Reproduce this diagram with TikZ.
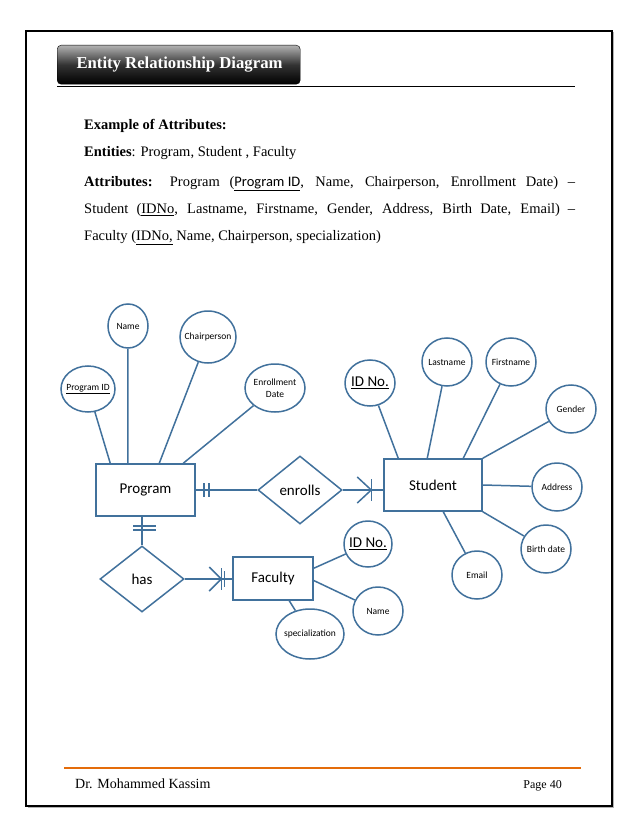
\documentclass[tikz,border=0pt]{standalone}
\usepackage{fontspec}
\setmainfont{Liberation Serif}
\newfontfamily\calfont{Carlito}
\usetikzlibrary{shapes.geometric,calc,shadows}
\definecolor{erblue}{HTML}{41719C}
\definecolor{footorange}{HTML}{E46C0A}
\tikzset{
 attr/.style={ellipse,draw=erblue,line width=1.5pt,fill=white,inner sep=0pt,label={[font=\calfont\fontsize{9.5}{12}\selectfont,align=center]center:#1}},
 bigattr/.style={ellipse,draw=erblue,line width=1.5pt,fill=white,inner sep=0pt,label={[font=\calfont\fontsize{15}{17}\selectfont]center:#1}},
 ent/.style={rectangle,draw=erblue,line width=1.5pt,fill=white,font=\calfont\fontsize{15}{17}\selectfont},
 rel/.style={diamond,draw=erblue,line width=1.5pt,fill=white,inner sep=0pt,aspect=1.25,font=\calfont\fontsize{15}{17}\selectfont},
 con/.style={draw=erblue,line width=1.5pt},
 body/.style={anchor=base west,inner sep=0pt,font=\fontsize{14.5}{16}\selectfont},
}
\begin{document}
\begin{tikzpicture}[x=1pt,y=-1pt]
\useasboundingbox (0,0) rectangle (638,826);
% page frame
\draw[line width=1.2pt,fill=white,drop shadow={shadow xshift=1.5pt,shadow yshift=-1.5pt,opacity=0.6}] (26,31) rectangle (612,806);
% header
\node[draw=black,rounded corners=4pt,minimum width=243pt,minimum height=39pt,top color=gray!60,bottom color=black,middle color=black!80,anchor=north west,inner sep=0pt] (hdr) at (57,45) {};
\node[text=white,font=\bfseries\fontsize{16.7}{18}\selectfont,anchor=west] (hdrt) at (73,65) {Entity Relationship Diagram};
\draw[line width=0.6pt] (57,86) -- (575,86);
% body text
\node[body] (t1) at (84,130) {\textbf{Example of Attributes:}};
\node[body] (t2) at (84,157) {\textbf{Entities}: Program, Student , Faculty};
\node[anchor=north west,inner sep=0pt,text width=491pt,align=justify,font=\fontsize{14.5}{27}\selectfont] (t3) at (84,176)
 {\textbf{Attributes:} Program ({\calfont\underline{Program ID}}, Name, Chairperson, Enrollment Date) --\linebreak Student (\underline{IDNo}, Lastname, Firstname, Gender, Address, Birth Date, Email) --\linebreak Faculty (\underline{IDNo,} Name, Chairperson, specialization)};
% entities
\node[ent,minimum width=99pt,minimum height=52pt] (prog) at (145.5,490) {Program};
\node[ent,minimum width=98pt,minimum height=52pt] (stud) at (433,485) {Student};
\node[ent,minimum width=80pt,minimum height=43pt] (fac) at (273,578.5) {Faculty};
\node[rel,minimum width=84pt,minimum height=68pt] (enr) at (300,490) {enrolls};
\node[rel,minimum width=84pt,minimum height=66pt] (has) at (142,579) {has};
% attributes
\node[attr={Name},minimum width=40pt,minimum height=44pt] (pname) at (128,326) {};
\node[attr={Chairperson},minimum width=56pt,minimum height=52pt] (pchair) at (208,337) {};
\node[attr={\underline{Program ID}},minimum width=54pt,minimum height=46pt] (pid) at (88,389) {};
\node[attr={Enrollment\\Date},minimum width=60pt,minimum height=48pt] (penr) at (275,388) {};
\node[bigattr={\underline{ID No.}},minimum width=50pt,minimum height=46pt] (sid) at (370,383) {};
\node[attr={Lastname},minimum width=50pt,minimum height=48pt] (slast) at (447,362) {};
\node[attr={Firstname},minimum width=50pt,minimum height=48pt] (sfirst) at (511,362) {};
\node[attr={Gender},minimum width=50pt,minimum height=48pt] (sgen) at (571,409) {};
\node[attr={Address},minimum width=50pt,minimum height=48pt] (sadd) at (557,487) {};
\node[attr={Birth date},minimum width=50pt,minimum height=48pt] (sbirth) at (546,549) {};
\node[attr={Email},minimum width=50pt,minimum height=48pt] (semail) at (477,575) {};
\node[bigattr={\underline{ID No.}},minimum width=48pt,minimum height=46pt] (fid) at (368,544) {};
\node[attr={Name},minimum width=50pt,minimum height=48pt] (fname) at (378,611) {};
\node[attr={specialization},minimum width=68pt,minimum height=50pt] (fspec) at (310,634) {};
% attribute connectors
\path[con] (pid) -- ($(prog.north west)+(15,0)$);
\path[con] (pname) -- ($(prog.north west)+(32.5,0)$);
\path[con] (pchair) -- ($(prog.north west)+(64,0)$);
\path[con] (penr) -- ($(prog.north west)+(88,0)$);
\path[con] (sid) -- ($(stud.north west)+(15,0)$);
\path[con] (slast) -- ($(stud.north west)+(44,0)$);
\path[con] (sfirst) -- ($(stud.north west)+(80,0)$);
\path[con] (sgen) -- (stud.north east);
\path[con] (sadd) -- (stud.east);
\path[con] (sbirth) -- (stud.south east);
\path[con] (semail) -- ($(stud.south west)+(60,0)$);
\path[con] (fid) -- ($(fac.north east)+(0,12)$);
\path[con] (fname) -- ($(fac.east)+(0,2)$);
\path[con] (fspec) -- ($(fac.south west)+(57,0)$);
% relationships
\path[con] (prog.east) -- (enr.west);
\path[con] ($(prog.east)+(8,-7)$) -- ($(prog.east)+(8,7)$);
\path[con] ($(prog.east)+(13,-7)$) -- ($(prog.east)+(13,7)$);
\coordinate (sw) at (stud.west |- enr.east);
\path[con] (enr.east) -- (sw);
\path[con] ($(sw)+(-26,-13)$) -- ($(sw)+(-12,0)$) -- ($(sw)+(-26,13)$);
\path[con] ($(sw)+(-12,-11)$) -- ($(sw)+(-12,11)$);
\coordinate (pb) at (prog.south -| has.north);
\path[con] (pb) -- (has.north);
\path[con] ($(pb)+(-9,9)$) -- ($(pb)+(14,9)$);
\path[con] ($(pb)+(-9,13)$) -- ($(pb)+(14,13)$);
\coordinate (fw) at (fac.west |- has.east);
\path[con] (has.east) -- (fw);
\path[con] ($(fw)+(-23,-12)$) -- ($(fw)+(-11,0)$) -- ($(fw)+(-23,12)$);
\path[con] ($(fw)+(-11,-11)$) -- ($(fw)+(-11,11)$);
\path[con] ($(fw)+(-8,-8)$) -- ($(fw)+(-8,8)$);
% footer
\draw[footorange,line width=2.5pt] (64,768) -- (581,768);
\node[anchor=base west,inner sep=0pt,font=\fontsize{14}{16}\selectfont] (fl) at (75,788) {Dr. Mohammed Kassim};
\node[anchor=base east,inner sep=0pt,font=\fontsize{12}{14}\selectfont] (fr) at (562,788) {Page 40};
\end{tikzpicture}
\end{document}
